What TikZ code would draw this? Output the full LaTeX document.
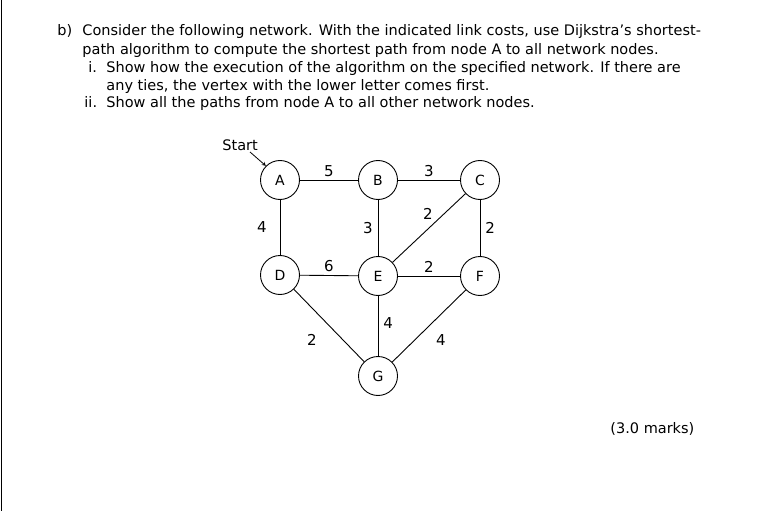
\documentclass[tikz,border=0pt]{standalone}
\usepackage{fontspec}
\setmainfont{DejaVu Sans}
\begin{document}
\begin{tikzpicture}[x=1pt,y=-1pt,line width=0.9pt,
  vtx/.style={circle,draw,minimum size=39pt,inner sep=0pt,font=\fontsize{14}{16}\selectfont},
  wt/.style={font=\fontsize{15}{17}\selectfont,inner sep=0pt},
  txt/.style={anchor=base west,inner sep=0pt,font=\fontsize{14.5}{17}\selectfont}]
\useasboundingbox (0,0) rectangle (764,511);
\draw[line width=1pt] (1,0) -- (1,511);
\node[txt] (l0) at (57,36) {b)};
\node[txt] (l1) at (82,36) {Consider the following network. With the indicated link costs, use Dijkstra’s shortest-};
\node[txt] (l2) at (82,55) {path algorithm to compute the shortest path from node A to all network nodes.};
\node[txt] (l3a) at (88,73) {i.};
\node[txt] (l3) at (106,73) {Show how the execution of the algorithm on the specified network. If there are};
\node[txt] (l4) at (106,91) {any ties, the vertex with the lower letter comes first.};
\node[txt] (l5a) at (84,108) {ii.};
\node[txt] (l5) at (106,108) {Show all the paths from node A to all other network nodes.};
\node[txt] (marks) at (610,433) {(3.0 marks)};
\node[vtx] (A) at (280,180) {A};
\node[vtx] (B) at (378,180) {B};
\node[vtx] (C) at (480,180) {C};
\node[vtx] (D) at (280,275) {D};
\node[vtx] (E) at (378,276) {E};
\node[vtx] (F) at (480,276) {F};
\node[vtx] (G) at (378,376) {G};
\node[txt] (start) at (222,150) {Start};
\draw[-stealth,thick] (250,152) -- (A.north west);
\draw (A) -- node[wt,above=3pt] {5} (B);
\draw (B) -- node[wt,above=3pt] {3} (C);
\draw (A) -- node[wt,left=13pt] {4} (D);
\draw (B) -- node[wt,left=5pt] {3} (E);
\draw (C) -- (E);
\node[wt] (wCE) at (428,214) {2};
\draw (C) -- node[wt,right=5pt] {2} (F);
\draw (D) -- node[wt,above=3pt] {6} (E);
\draw (E) -- node[wt,above=3pt] {2} (F);
\draw (D) -- (G);
\node[wt] (wDG) at (312,340) {2};
\draw (E) -- node[wt,right=5pt,pos=0.45] {4} (G);
\draw (F) -- (G);
\node[wt] (wFG) at (441,340) {4};
\end{tikzpicture}
\end{document}
